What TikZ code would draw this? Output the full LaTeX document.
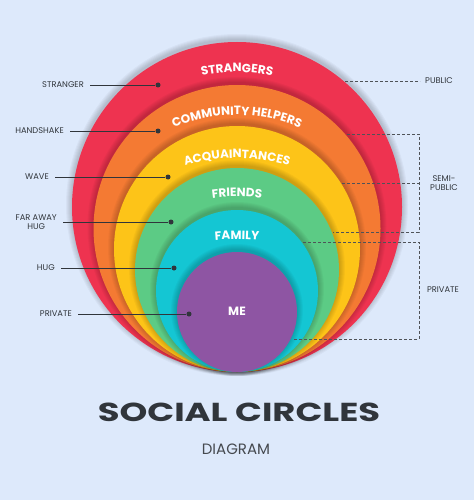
\documentclass[tikz,border=0pt]{standalone}
\usepackage{fontspec}
\setmainfont{Poppins}
\usetikzlibrary{calc, positioning, decorations.text}
\definecolor{bgblue}{HTML}{DDE9FB}
\definecolor{cstrangers}{HTML}{EE3350}
\definecolor{chelpers}{HTML}{F47A33}
\definecolor{cacquaint}{HTML}{FDC418}
\definecolor{cfriends}{HTML}{5CCB85}
\definecolor{cfamily}{HTML}{14C6D3}
\definecolor{cme}{HTML}{8E55A3}
\definecolor{ink}{HTML}{30353B}
\newcommand\ringfont{\fontsize{12}{12}\selectfont\bfseries}
\tikzset{
	ringtext/.style={decorate, decoration={text along path, text align=center, text color=white, text={|\ringfont|#1}}},
	sidelabel/.style={font=\fontsize{8.3}{9.3}\selectfont, text=ink, align=center, inner sep=0pt},
	bullet/.style={circle, fill=ink, inner sep=0pt, minimum size=5pt},
	pointer/.style={ink, line width=0.8pt},
	zone/.style={ink!85, line width=0.7pt, dash pattern=on 3pt off 2pt},
}

\begin{document}
\begin{tikzpicture}[x=1pt, y=1pt]
		\fill[bgblue] (0,0) rectangle (474,-500);
		\useasboundingbox (0,0) rectangle (474,-500);
		
		\foreach \r / \c in {165/cstrangers, 143.5/chelpers, 123/cacquaint, 102/cfriends, 81/cfamily, 60/cme} {
		\foreach \k in {1,...,6}
		\fill[black, opacity=0.03] (237,-370+\r) circle[radius=\r+\k];
		\fill[\c] (237,-372+\r) circle[radius=\r];
		}
		
		\path[ringtext={STRANGERS}, shift={(237,-232)}] (115:160) arc[start angle=115, end angle=65, radius=160];
		\path[ringtext={COMMUNITY HELPERS}, shift={(237,-275)}] (120:160) arc[start angle=120, end angle=60, radius=160];
		\path[ringtext={ACQUAINTANCES}, shift={(237,-338)}] (115:180) arc[start angle=115, end angle=65, radius=180];
		\path[ringtext={FRIENDS}, shift={(237,-376.5)}] (110:180) arc[start angle=110, end angle=70, radius=180];
		\path[ringtext={FAMILY}, shift={(237,-479.5)}] (105:240) arc[start angle=105, end angle=75, radius=240];
		\node[text=white, font=\ringfont] (me) at (237,-311) {ME};
		
		\foreach \n / \txt / \ex / \y / \dx in {1/STRANGER/84/85/158, 2/HANDSHAKE/64/131/158, 3/WAVE/49/177/168, 4/{FAR AWAY\\HUG}/57/222/171, 5/HUG/55/268/174, 6/PRIVATE/72/314/189} {
		\node[bullet] (dot\n) at (\dx,-\y) {};
		\node[sidelabel, anchor=east] (lab\n) at (\ex,-\y) {\txt};
		\draw[pointer] ([xshift=6pt]lab\n.east) -- (dot\n);
		}
		
		\coordinate (rail) at (419,0);
		\node[sidelabel, anchor=west] (public) at (425,-81) {PUBLIC};
		\node[sidelabel] (semipublic) at (444,-183) {SEMI-\\PUBLIC};
		\node[sidelabel] (private) at (443,-290) {PRIVATE};
		
		\coordinate (pubend) at (345,-81);
		\coordinate (semitop) at (347,-134);
		\coordinate (semimid) at (342,-183);
		\coordinate (semibot) at (333,-232);
		\coordinate (privtop) at (303,-242);
		\coordinate (privbot) at (293,-339);
		
		\draw[zone] (pubend) -- ([xshift=-5pt]public.west);
		\draw[zone] (semitop) -- (semitop -| rail) -- (semibot -| rail) -- (semibot);
		\draw[zone] (semimid) -- (semimid -| rail);
		\draw[zone] (privtop) -- (privtop -| rail) -- (privbot -| rail) -- (privbot);
		
		\node[text=ink, font=\fontsize{26}{26}\selectfont\bfseries] (title) at (239,-412) {\scalebox{1.36}[1]{SOCIAL CIRCLES}};
		\node[text=ink!90, font=\fontsize{15}{15}\selectfont] (subtitle) at (236,-449) {DIAGRAM};
	\end{tikzpicture}
\end{document}
